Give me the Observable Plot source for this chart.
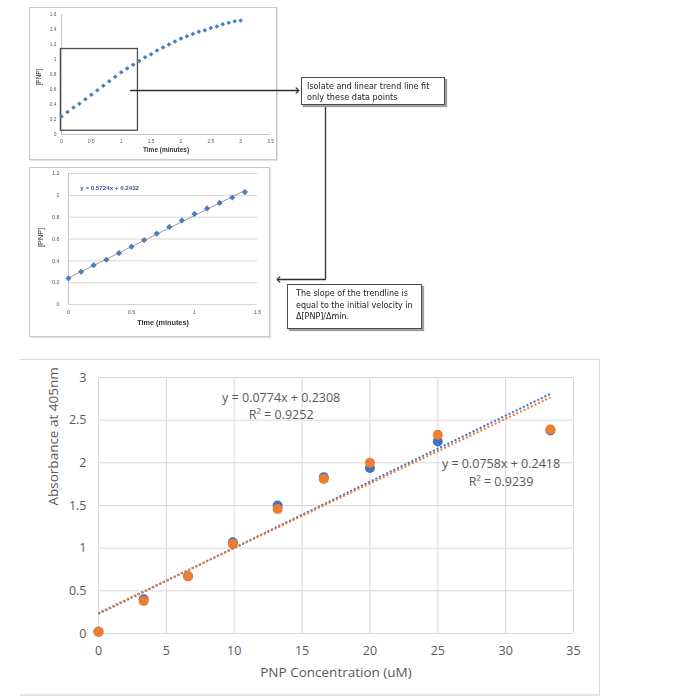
<!DOCTYPE html>
<html>
<head>
<meta charset="utf-8">
<script src="https://cdn.jsdelivr.net/npm/d3@7"></script>
<script src="https://cdn.jsdelivr.net/npm/@observablehq/plot@0.6"></script>
<style>
  body { margin: 0; background: #fff; }
  #page { position: relative; width: 675px; height: 696px; overflow: hidden; background: #fff; }
  .panel { position: absolute; }
  .panel svg { display: block; overflow: visible; }
  .snap { outline: 1px solid #c9c9c9; outline-offset: -1px; box-shadow: 1px 1px 1px #e2e2e2; filter: blur(0.35px); }
  .frame { position: absolute; border-top: 1px solid #d9d9d9; border-right: 1px solid #d9d9d9; border-bottom: 2px solid #e6e6e6; box-sizing: border-box; }
  .note { position: absolute; box-sizing: border-box; border: 1px solid #4a4a4a; background: #fff;
          box-shadow: 2px 2px 1px #a0a0a0; font-family: "DejaVu Sans", Verdana, sans-serif;
          color: #222; filter: blur(0.3px); white-space: nowrap; }
  #overlay { position: absolute; left: 0; top: 0; pointer-events: none; }
</style>
</head>
<body>
<div id="page"></div>
<script>
// ---- Reaction progress: [PNP] sampled every 0.1 min ----
const timeMin = [0, 0.1, 0.2, 0.3, 0.4, 0.5, 0.6, 0.7, 0.8, 0.9, 1.0, 1.1, 1.2, 1.3, 1.4,
                 1.5, 1.6, 1.7, 1.8, 1.9, 2.0, 2.1, 2.2, 2.3, 2.4, 2.5, 2.6, 2.7, 2.8, 2.9, 3.0];
const pnp = [0.24, 0.30, 0.36, 0.41, 0.47, 0.53, 0.59, 0.65, 0.71, 0.77, 0.83, 0.88, 0.93, 0.98, 1.03,
             1.07, 1.12, 1.16, 1.20, 1.24, 1.28, 1.31, 1.34, 1.37, 1.39, 1.42, 1.44, 1.47, 1.49, 1.51, 1.52];
// the linear (initial) part used for the fit: first 15 samples, 0 – 1.4 min
const linearCount = 15;
const initialFit = {slope: 0.5724, intercept: 0.2432};
// selection window drawn on the full curve (time, [PNP])
const windowTime = [-0.01, 1.28];
const windowPnp = [0.05, 1.14];

const timeTicksFull = [0, 0.5, 1, 1.5, 2, 2.5, 3, 3.5];
const pnpTicksFull = [0, 0.2, 0.4, 0.6, 0.8, 1, 1.2, 1.4, 1.6];
const timeTicksFit = [0, 0.5, 1, 1.5];
const pnpTicksFit = [0, 0.2, 0.4, 0.6, 0.8, 1, 1.2];

// ---- Standard curve: absorbance vs PNP concentration (two replicates) ----
const concentration = [0, 3.33, 6.6, 9.9, 13.2, 16.6, 20, 25, 33.3];
const absorbanceA = [0.02, 0.40, 0.67, 1.07, 1.50, 1.83, 1.94, 2.25, 2.38];
const absorbanceB = [0.02, 0.38, 0.67, 1.05, 1.46, 1.81, 2.00, 2.33, 2.39];
const fitA = {slope: 0.0774, intercept: 0.2308, r2: 0.9252};
const fitB = {slope: 0.0758, intercept: 0.2418, r2: 0.9239};
const concTicks = [0, 5, 10, 15, 20, 25, 30, 35];
const absTicks = [0, 0.5, 1, 1.5, 2, 2.5, 3];

const BLUE = "#4472C4", ORANGE = "#ED7D31", OLD_BLUE = "#4a7ebb";

const page = document.getElementById("page");
function place(node, left, top, cls) {
  const div = document.createElement("div");
  div.className = "panel" + (cls ? " " + cls : "");
  div.style.left = left + "px";
  div.style.top = top + "px";
  div.appendChild(node);
  page.appendChild(div);
  return div;
}

const progress = timeMin.map((t, i) => ({t, c: pnp[i]}));
const fmt = d => String(d);

// ---- Panel 1: full progress curve with the selection window ----
const chart1 = Plot.plot({
  width: 248, height: 153,
  marginLeft: 32, marginRight: 7, marginTop: 7, marginBottom: 26,
  style: {fontFamily: "Liberation Sans, Arial, sans-serif", fontSize: "4.8px", color: "#555", background: "transparent"},
  x: {domain: [0, 3.5], ticks: timeTicksFull, tickFormat: fmt, tickSize: 0, tickPadding: 5, label: null},
  y: {domain: [0, 1.6], ticks: pnpTicksFull, tickFormat: fmt, tickSize: 0, tickPadding: 5, label: null},
  marks: [
    Plot.ruleY([0], {stroke: "#c4c4c4"}),
    Plot.ruleX([0], {stroke: "#c4c4c4"}),
    Plot.rect([{}], {x1: () => windowTime[0], x2: () => windowTime[1], y1: () => windowPnp[0], y2: () => windowPnp[1],
                    fill: "none", stroke: "#4d4d4d", strokeWidth: 1.3}),
    Plot.dot(progress, {x: "t", y: "c", symbol: "diamond2", r: 2.1, fill: OLD_BLUE}),
    Plot.text(["Time (minutes)"], {text: d => d, frameAnchor: "bottom", dy: 17, fontWeight: "bold", fontSize: 6.5, fill: "#333"}),
    Plot.text(["[PNP]"], {text: d => d, frameAnchor: "left", dx: -23, dy: 11, rotate: -90, fontSize: 6.5, fill: "#333"})
  ]
});
place(chart1, 29, 7, "snap");

// ---- Panel 2: the isolated linear part with its trend line ----
const initial = progress.slice(0, linearCount);
const tEnd = timeMin[linearCount - 1];
const chart2 = Plot.plot({
  width: 241, height: 170,
  marginLeft: 39, marginRight: 13, marginTop: 6, marginBottom: 33,
  style: {fontFamily: "Liberation Sans, Arial, sans-serif", fontSize: "5.4px", color: "#555", background: "transparent"},
  x: {domain: [0, 1.5], ticks: timeTicksFit, tickFormat: fmt, tickSize: 0, tickPadding: 6, label: null},
  y: {domain: [0, 1.2], ticks: pnpTicksFit, tickFormat: fmt, tickSize: 0, tickPadding: 9, label: null},
  marks: [
    Plot.ruleY(pnpTicksFit, {stroke: "#d6d6d6"}),
    Plot.ruleX([0], {stroke: "#c4c4c4"}),
    Plot.line([0, tEnd], {x: d => d, y: d => initialFit.slope * d + initialFit.intercept, stroke: "#9a9a9a", strokeWidth: 1}),
    Plot.dot(initial, {x: "t", y: "c", symbol: "diamond2", r: 2.8, fill: OLD_BLUE}),
    Plot.text([initialFit], {x: 0.093, y: 1.07, text: d => `y = ${d.slope}x + ${d.intercept}`, textAnchor: "start",
                             fontWeight: "bold", fontSize: 6.2, fill: "#2e5c92"}),
    Plot.text(["Time (minutes)"], {text: d => d, frameAnchor: "bottom", dy: 20, fontWeight: "bold", fontSize: 7.3, fill: "#333"}),
    Plot.text(["[PNP]"], {text: d => d, frameAnchor: "left", dx: -28, dy: 8, rotate: -90, fontSize: 7.3, fill: "#333"})
  ]
});
place(chart2, 29, 167, "snap");

// ---- Panel 3: standard curve with two linear trend lines ----
const frame = document.createElement("div");
frame.className = "frame";
Object.assign(frame.style, {left: "20px", top: "359px", width: "580px", height: "337px"});
page.appendChild(frame);

const seriesA = concentration.map((x, i) => ({x, y: absorbanceA[i]}));
const seriesB = concentration.map((x, i) => ({x, y: absorbanceB[i]}));
const xMax = d3.max(concentration);
const trend = fit => [0, xMax].map(x => ({x, y: fit.slope * x + fit.intercept}));
const eq = fit => `y = ${fit.slope}x + ${fit.intercept}`;
const r2 = fit => `R² = ${fit.r2}`;
const GRID = "#d9d9d9", TEXT = "#595959";
const dotted = {strokeWidth: 2, strokeDasharray: "2,2", strokeLinecap: "butt"};

const chart3 = Plot.plot({
  width: 574, height: 335,
  marginLeft: 73, marginRight: 26, marginTop: 18, marginBottom: 61,
  style: {fontFamily: "Open Sans, Noto Sans, sans-serif", fontSize: "12.5px", color: TEXT, background: "transparent"},
  x: {domain: [0, 35], ticks: concTicks, tickFormat: fmt, tickSize: 0, tickPadding: 13, label: null},
  y: {domain: [0, 3], ticks: absTicks, tickFormat: fmt, tickSize: 0, tickPadding: 12, label: null},
  marks: [
    Plot.ruleX(concTicks, {stroke: GRID}),
    Plot.ruleY(absTicks, {stroke: GRID}),
    Plot.dot(seriesA, {x: "x", y: "y", r: 5, fill: BLUE}),
    Plot.dot(seriesB, {x: "x", y: "y", r: 5, fill: ORANGE}),
    Plot.line(trend(fitA), {x: "x", y: "y", stroke: BLUE, ...dotted}),
    Plot.line(trend(fitB), {x: "x", y: "y", stroke: ORANGE, ...dotted, strokeDashoffset: 1}),
    Plot.text([fitA], {x: 13.46, y: 2.76, text: eq, fill: TEXT, fontSize: 12.5}),
    Plot.text([fitA], {x: 13.46, y: 2.56, text: r2, fill: TEXT, fontSize: 12.5}),
    Plot.text([fitB], {x: 29.66, y: 1.99, text: eq, fill: TEXT, fontSize: 12.5}),
    Plot.text([fitB], {x: 29.66, y: 1.78, text: r2, fill: TEXT, fontSize: 12.5}),
    Plot.text(["PNP Concentration (uM)"], {text: d => d, frameAnchor: "bottom", dy: 43, fontSize: 13.5, fill: TEXT}),
    Plot.text(["Absorbance at 405nm"], {text: d => d, frameAnchor: "left", dx: -45, rotate: -90, fontSize: 13.5, fill: TEXT})
  ]
});
place(chart3, 25, 359);

// ---- Connector arrows between the panels and the notes ----
const connectors = [
  [{x: 130, y: 90}, {x: 297, y: 90}],
  [{x: 325, y: 105}, {x: 325, y: 279}, {x: 278, y: 279}]
];
const overlay = Plot.plot({
  width: 675, height: 696, margin: 0,
  x: {type: "identity", axis: null},
  y: {type: "identity", axis: null},
  style: {background: "transparent"},
  marks: connectors.map(path =>
    Plot.line(path, {x: "x", y: "y", stroke: "#303030", strokeWidth: 1.3, markerEnd: "arrow"}))
});
overlay.id = "overlay";
page.appendChild(overlay);

// ---- Notes ----
function note(lines, left, top, width, height, fontSize, lineHeight, padLeft, padTop) {
  const div = document.createElement("div");
  div.className = "note";
  Object.assign(div.style, {left: left + "px", top: top + "px", width: width + "px", height: height + "px",
    fontSize: fontSize + "px", lineHeight: lineHeight + "px", paddingLeft: padLeft + "px", paddingTop: padTop + "px"});
  div.innerHTML = lines.join("<br>");
  page.appendChild(div);
}
note(["Isolate and linear trend line fit", "only these data points"], 301, 77, 144, 28, 8.1, 10.5, 5, 3);
note(["The slope of the trendline is", "equal to the initial velocity in", "Δ[PNP]/Δmin."], 287, 284, 135, 45, 8.0, 11.5, 8, 3);
</script>
</body>
</html>
